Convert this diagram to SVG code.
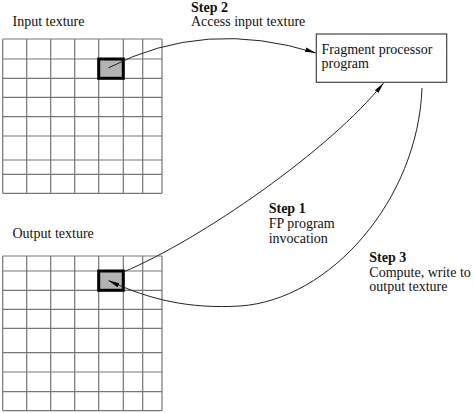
<svg xmlns="http://www.w3.org/2000/svg" width="474" height="413" viewBox="0 0 474 413">
<style>
text{font-family:"Liberation Serif","Times New Roman",serif;font-size:14px;fill:#111}
.b{font-weight:bold}
.grid{stroke:#777;stroke-width:1.2;fill:none}
.cell{fill:#b3b3b3;stroke:#000;stroke-width:3}
.conn{fill:none;stroke:#222;stroke-width:1}
.box{fill:#fff;stroke:#444;stroke-width:1.2}
</style>
<defs>
<marker id="ah" markerWidth="12" markerHeight="6" refX="11" refY="3" orient="auto" markerUnits="userSpaceOnUse">
<path d="M0,0.8 L11,3 L0,5.2 Z" fill="#000"/>
</marker>
</defs>
<g id="input-texture">
<text x="12.5" y="25.5">Input texture</text>
<path class="grid" d="M2.7,39H162M2.7,59H162M2.7,78.3H162M2.7,97.3H162M2.7,116.7H162M2.7,136H162M2.7,160H162M2.7,174.3H162M2.7,193.3H162M2.7,39V193.3M26.7,39V193.3M50.7,39V193.3M74.7,39V193.3M98.7,39V193.3M123.3,39V193.3M142.7,39V193.3M162,39V193.3"/>
<rect class="cell" x="98.7" y="59" width="24.6" height="19.3"/>
</g>
<g id="output-texture">
<text x="12.5" y="237.5">Output texture</text>
<path class="grid" d="M2.7,256H162M2.7,271H162M2.7,290.3H162M2.7,309.3H162M2.7,328.3H162M2.7,352.7H162M2.7,372H162M2.7,391.7H162M2.7,410.7H162M2.7,256V410.7M26.7,256V410.7M50.7,256V410.7M74.7,256V410.7M98.7,256V410.7M123.3,256V410.7M142.7,256V410.7M162,256V410.7"/>
<rect class="cell" x="98.7" y="271" width="24.6" height="19.3"/>
</g>
<g id="fp-program">
<rect class="box" x="316.3" y="34" width="130.4" height="48.3"/>
<text x="321.5" y="53.5">Fragment processor</text>
<text x="321.5" y="68">program</text>
</g>
<g id="connectors">
<path class="conn" d="M108.5,67.8 Q205,18 316,53" marker-end="url(#ah)"/>
<path class="conn" d="M123.3,272 C200,240 330,150 383.5,83" marker-end="url(#ah)"/>
<path class="conn" d="M422,88 C418,200 330,300 240,306 C190,309 150,300 108.5,280.5" marker-end="url(#ah)"/>
</g>
<g id="step2-label">
<text class="b" x="191" y="11.5">Step 2</text>
<text x="191" y="25.5">Access input texture</text>
</g>
<g id="step1-label">
<text class="b" x="268.7" y="213.3">Step 1</text>
<text x="268.7" y="228">FP program</text>
<text x="268.7" y="242.5">invocation</text>
</g>
<g id="step3-label">
<text class="b" x="369.3" y="261.7">Step 3</text>
<text x="369.3" y="276.5">Compute, write to</text>
<text x="369.3" y="291">output texture</text>
</g>
</svg>
